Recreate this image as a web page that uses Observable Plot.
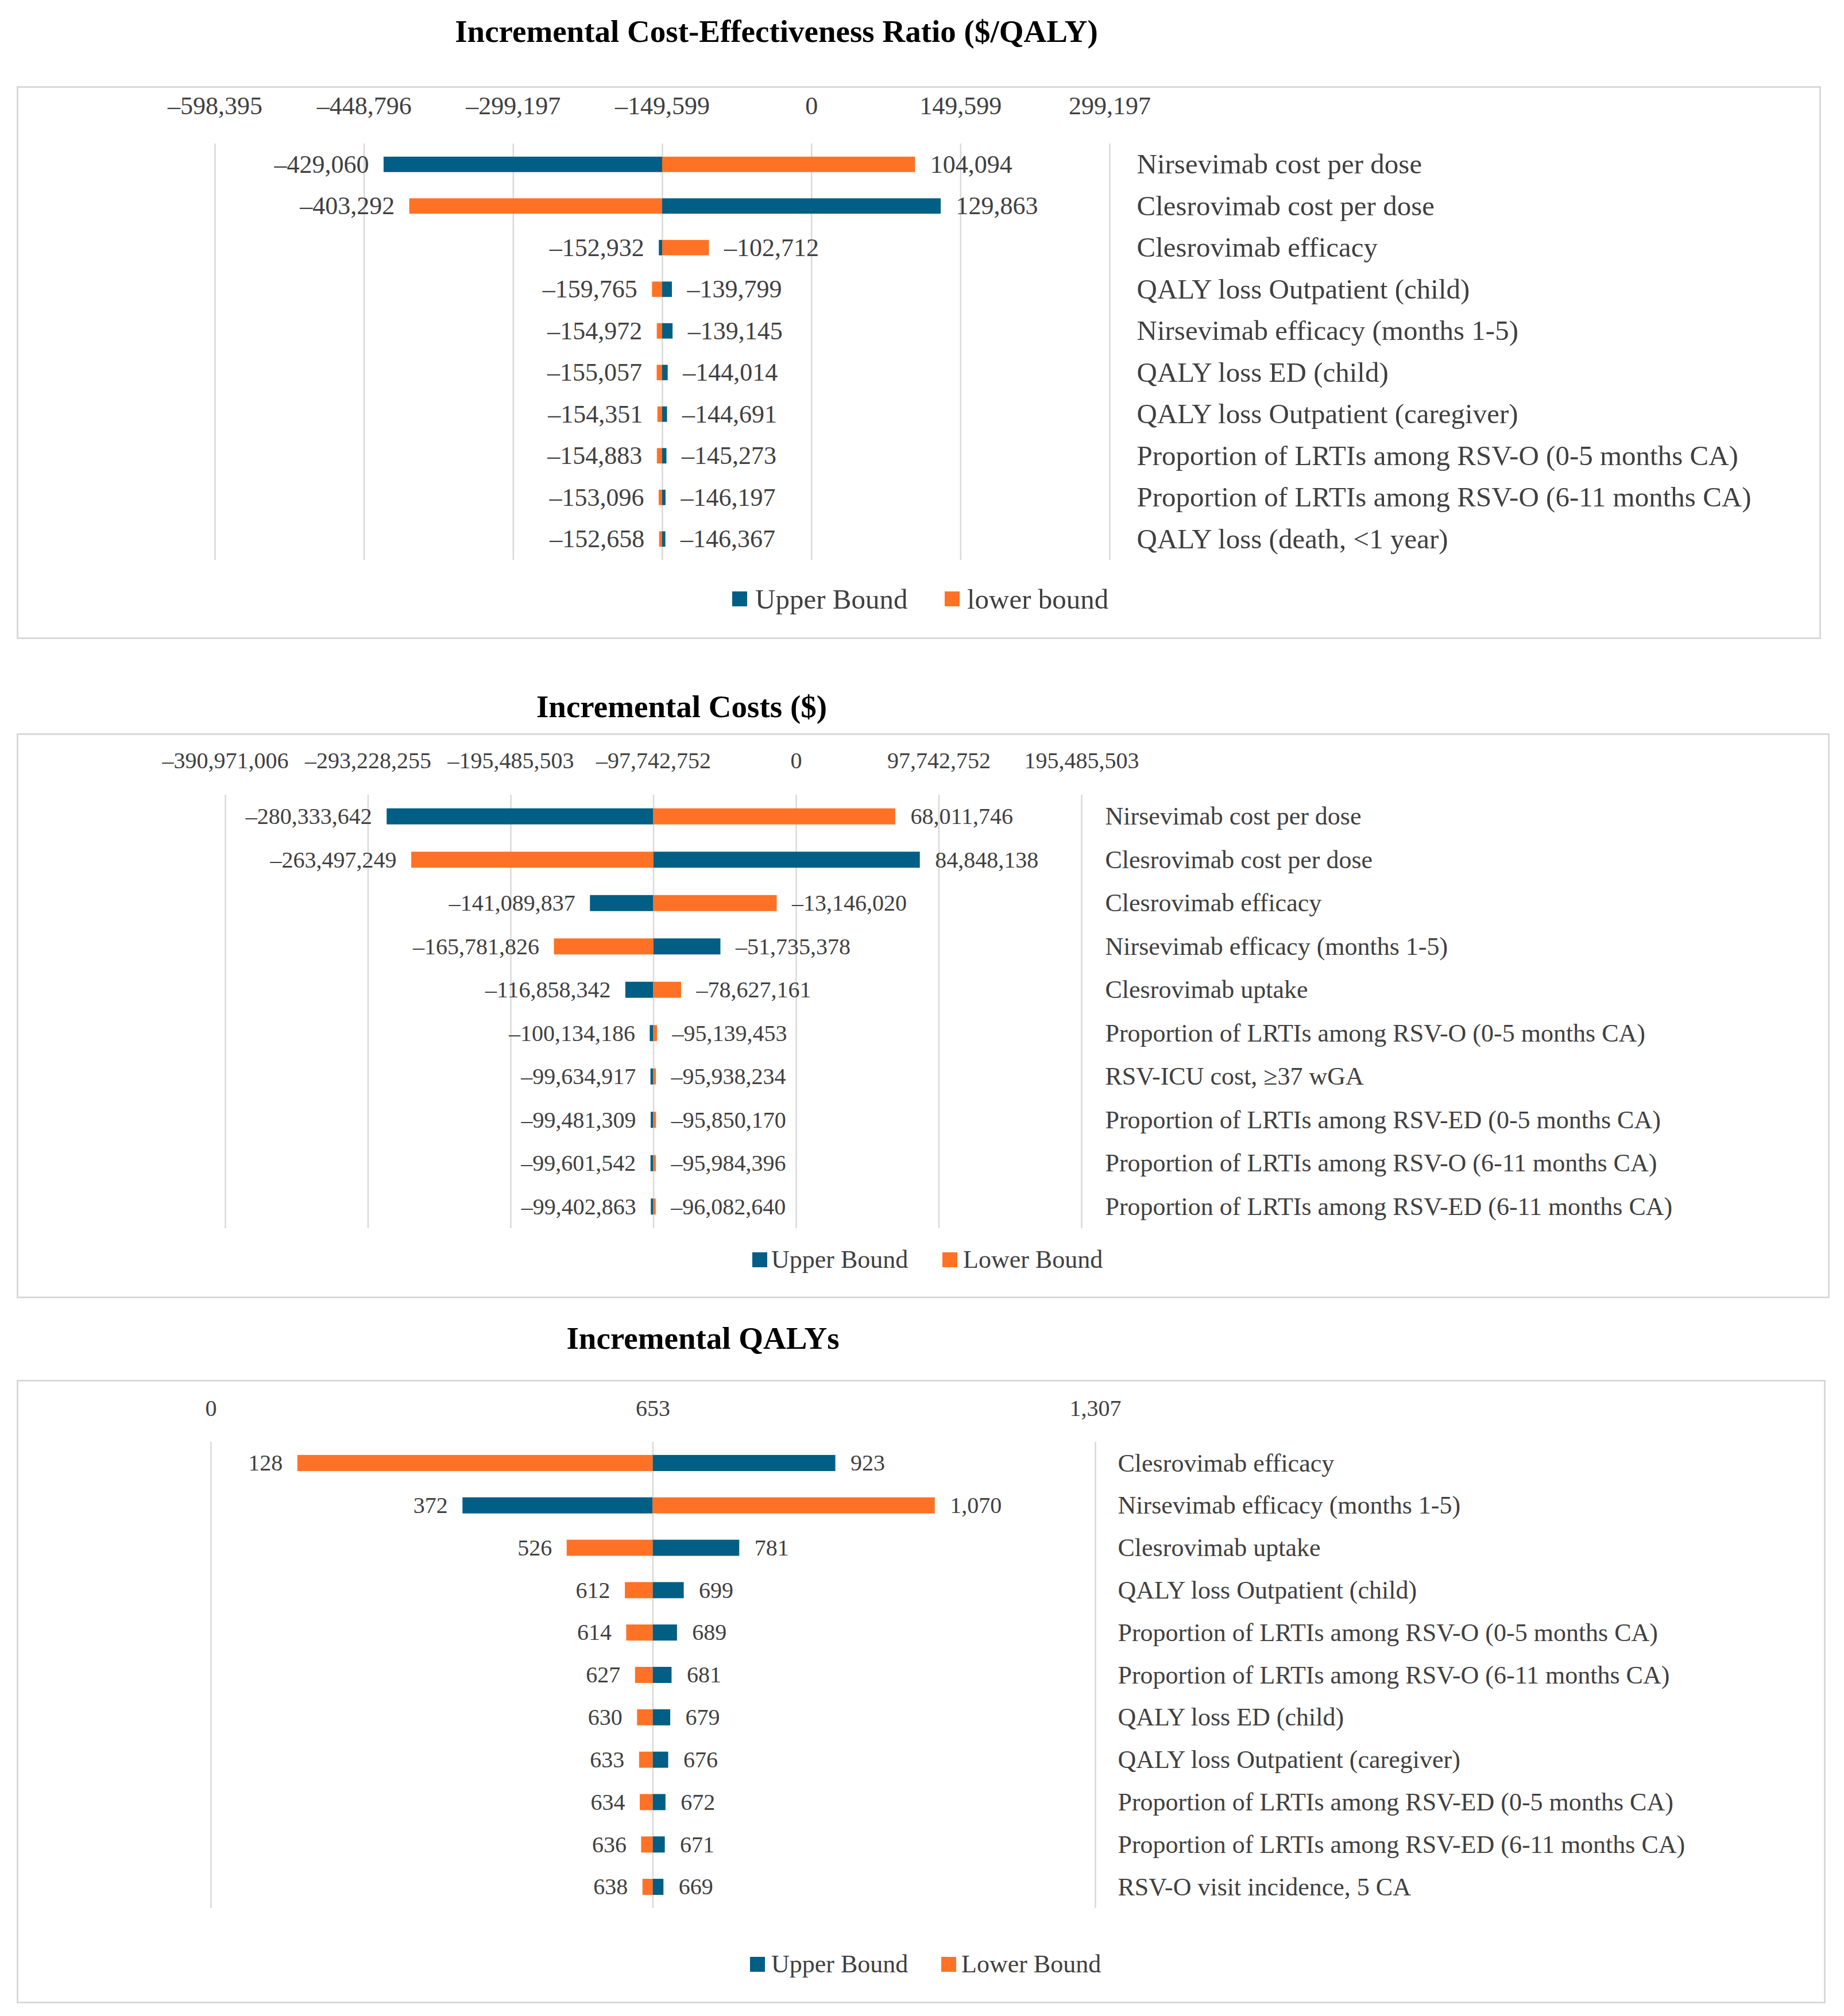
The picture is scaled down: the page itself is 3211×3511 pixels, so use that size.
<!DOCTYPE html>
<html>
<head>
<meta charset="utf-8">
<script src="https://cdn.jsdelivr.net/npm/d3@7"></script>
<script src="https://cdn.jsdelivr.net/npm/@observablehq/plot@0.6"></script>
<style>
  html, body { margin: 0; padding: 0; background: #fff; }
  #page { position: relative; width: 3211px; height: 3511px; font-family: "Liberation Serif", "DejaVu Serif", serif; background: #fff; }
  .title { position: absolute; font-weight: bold; font-size: 55px; color: #000; white-space: nowrap; transform: translate(-50%, -50%); }
  .panel { position: absolute; }
  .frame { position: absolute; left: 0; top: 0; right: 0; bottom: 0; border: 3px solid #d9d9d9; box-sizing: border-box; }
  .panel svg { position: absolute; left: 0; top: 0; overflow: visible; }
  .sw { position: absolute; width: 26px; height: 26px; transform: translateY(-50%); }
  .lt { position: absolute; color: #404040; white-space: nowrap; transform: translateY(-50%); line-height: 1; }
</style>
</head>
<body>
<div id="page"></div>
<script>
// ---------- DATA ----------
const titles = ["Incremental Cost-Effectiveness Ratio ($/QALY)", "Incremental Costs ($)", "Incremental QALYs"];

// Panel 1: ICER
const cats1 = ["Nirsevimab cost per dose", "Clesrovimab cost per dose", "Clesrovimab efficacy",
  "QALY loss Outpatient (child)", "Nirsevimab efficacy (months 1-5)", "QALY loss ED (child)",
  "QALY loss Outpatient (caregiver)", "Proportion of LRTIs among RSV-O (0-5 months CA)",
  "Proportion of LRTIs among RSV-O (6-11 months CA)", "QALY loss (death, <1 year)"];
const upper1 = [-429060, 129863, -152932, -139799, -139145, -144014, -144691, -145273, -146197, -146367];
const lower1 = [104094, -403292, -102712, -159765, -154972, -155057, -154351, -154883, -153096, -152658];
const base1 = -149599;
const ticks1 = [-598395, -448796, -299197, -149599, 0, 149599, 299197];
const tickLabels1 = ["–598,395", "–448,796", "–299,197", "–149,599", "0", "149,599", "299,197"];
const legend1 = ["Upper Bound", "lower bound"];

// Panel 2: Costs
const cats2 = ["Nirsevimab cost per dose", "Clesrovimab cost per dose", "Clesrovimab efficacy",
  "Nirsevimab efficacy (months 1-5)", "Clesrovimab uptake",
  "Proportion of LRTIs among RSV-O (0-5 months CA)", "RSV-ICU cost, ≥37 wGA",
  "Proportion of LRTIs among RSV-ED (0-5 months CA)", "Proportion of LRTIs among RSV-O (6-11 months CA)",
  "Proportion of LRTIs among RSV-ED (6-11 months CA)"];
const upper2 = [-280333642, 84848138, -141089837, -51735378, -116858342, -100134186, -99634917, -99481309, -99601542, -99402863];
const lower2 = [68011746, -263497249, -13146020, -165781826, -78627161, -95139453, -95938234, -95850170, -95984396, -96082640];
const base2 = -97742752;
const ticks2 = [-390971006, -293228255, -195485503, -97742752, 0, 97742752, 195485503];
const tickLabels2 = ["–390,971,006", "–293,228,255", "–195,485,503", "–97,742,752", "0", "97,742,752", "195,485,503"];
const legend2 = ["Upper Bound", "Lower Bound"];

// Panel 3: QALYs
const cats3 = ["Clesrovimab efficacy", "Nirsevimab efficacy (months 1-5)", "Clesrovimab uptake",
  "QALY loss Outpatient (child)", "Proportion of LRTIs among RSV-O (0-5 months CA)",
  "Proportion of LRTIs among RSV-O (6-11 months CA)", "QALY loss ED (child)",
  "QALY loss Outpatient (caregiver)", "Proportion of LRTIs among RSV-ED (0-5 months CA)",
  "Proportion of LRTIs among RSV-ED (6-11 months CA)", "RSV-O visit incidence, 5 CA"];
const upper3 = [923, 372, 781, 699, 689, 681, 679, 676, 672, 671, 669];
const lower3 = [128, 1070, 526, 612, 614, 627, 630, 633, 634, 636, 638];
const base3 = 653;
const ticks3 = [0, 653, 1307];
const tickLabels3 = ["0", "653", "1,307"];
const legend3 = ["Upper Bound", "Lower Bound"];

const BLUE = "#015e85";
const ORANGE = "#ff7226";
const TEXT = "#404040";
const GRID = "#d9d9d9";

// ---------- RENDER ----------
const page = document.getElementById("page");
const fmt = v => (v < 0 ? "–" : "") + d3.format(",")(Math.abs(v));

function addTitle(text, cx, cy) {
  const t = document.createElement("div");
  t.className = "title";
  t.textContent = text;
  t.style.left = cx + "px";
  t.style.top = cy + "px";
  page.appendChild(t);
}

function panel(cfg) {
  const div = document.createElement("div");
  div.className = "panel";
  Object.assign(div.style, {left: cfg.left + "px", top: cfg.top + "px", width: cfg.width + "px", height: cfg.height + "px"});
  const fr = document.createElement("div");
  fr.className = "frame";
  div.appendChild(fr);

  const table = [];
  cfg.cats.forEach((c, i) => {
    table.push({cat: c, bound: cfg.legend[0], v: cfg.upper[i]});
    table.push({cat: c, bound: cfg.legend[1], v: cfg.lower[i]});
  });
  const base = cfg.base;

  const svg = Plot.plot({
    width: cfg.width,
    height: cfg.svgHeight,
    marginLeft: cfg.mL,
    marginRight: cfg.width - cfg.xEnd,
    marginTop: cfg.mT,
    marginBottom: cfg.svgHeight - cfg.yEnd,
    style: {fontFamily: '"Liberation Serif", serif', background: "transparent", overflow: "visible"},
    x: {domain: [cfg.ticks[0], cfg.ticks[cfg.ticks.length - 1]], label: null},
    y: {domain: cfg.cats, paddingInner: cfg.pad, paddingOuter: cfg.pad / 2, round: false, label: null},
    color: {domain: cfg.legend, range: [BLUE, ORANGE]},
    marks: [
      Plot.ruleX(cfg.ticks, {x: d => d, stroke: GRID, strokeWidth: 2.5}),
      Plot.barX(table, {y: "cat", x1: () => base, x2: "v", fill: "bound"}),
      Plot.text(table.filter(d => d.v < base), {y: "cat", x: "v", text: d => fmt(d.v), textAnchor: "end", dx: -26, fill: TEXT, fontSize: cfg.numSize}),
      Plot.text(table.filter(d => d.v >= base), {y: "cat", x: "v", text: d => fmt(d.v), textAnchor: "start", dx: 26, fill: TEXT, fontSize: cfg.numSize}),
      Plot.axisX({anchor: "top", ticks: cfg.ticks, tickFormat: (d, i) => cfg.tickLabels[i], tickSize: 0, label: null,
        tickPadding: cfg.mT - cfg.tickY, lineAnchor: "middle", fill: TEXT, fontSize: cfg.numSize}),
      Plot.axisY({anchor: "right", tickSize: 0, tickPadding: cfg.catX - cfg.xEnd, textAnchor: "start", label: null,
        fill: TEXT, fontSize: cfg.catSize, lineWidth: Infinity})
    ]
  });
  div.appendChild(svg);

  // legend
  const items = [[cfg.legend[0], BLUE, cfg.lg[0], cfg.lg[1]], [cfg.legend[1], ORANGE, cfg.lg[2], cfg.lg[3]]];
  items.forEach(([label, col, sx, tx]) => {
    const s = document.createElement("div");
    s.className = "sw";
    Object.assign(s.style, {left: sx + "px", top: cfg.lgY + "px", background: col});
    div.appendChild(s);
    const t = document.createElement("div");
    t.className = "lt";
    t.textContent = label;
    Object.assign(t.style, {left: tx + "px", top: cfg.lgY + "px", fontSize: cfg.catSize + "px"});
    div.appendChild(t);
  });
  page.appendChild(div);
}

addTitle(titles[0], 1352, 54);
panel({left: 29, top: 150, width: 3142, height: 963, svgHeight: 845,
  cats: cats1, upper: upper1, lower: lower1, base: base1, ticks: ticks1, tickLabels: tickLabels1, legend: legend1,
  mL: 345, xEnd: 1903, mT: 100, yEnd: 825, pad: 0.63, tickY: 34, catX: 1950,
  numSize: 44, catSize: 49, lgY: 893, lg: [1246, 1286, 1616, 1655]});

addTitle(titles[1], 1187, 1230);
panel({left: 29, top: 1277, width: 3157, height: 984, svgHeight: 880,
  cats: cats2, upper: upper2, lower: lower2, base: base2, ticks: ticks2, tickLabels: tickLabels2, legend: legend2,
  mL: 363, xEnd: 1854, mT: 107, yEnd: 862, pad: 0.63, tickY: 48, catX: 1895,
  numSize: 40, catSize: 44, lgY: 917, lg: [1281, 1314, 1612, 1648]});

addTitle(titles[2], 1224, 2330);
panel({left: 29, top: 2403, width: 3150, height: 1086, svgHeight: 935,
  cats: cats3, upper: upper3, lower: lower3, base: base3, ticks: ticks3, tickLabels: tickLabels3, legend: legend3,
  mL: 338, xEnd: 1878, mT: 108, yEnd: 920, pad: 0.62, tickY: 50, catX: 1917,
  numSize: 40, catSize: 44, lgY: 1018, lg: [1277, 1314, 1610, 1645]});
</script>
</body>
</html>
